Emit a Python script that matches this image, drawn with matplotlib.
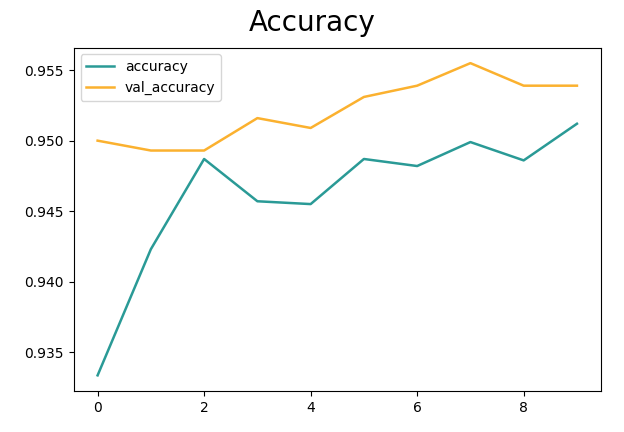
import matplotlib
matplotlib.use("Agg")
import matplotlib.pyplot as plt

epochs = list(range(10))
accuracy = [0.93335, 0.9423, 0.9487, 0.9457, 0.9455, 0.9487, 0.9482, 0.9499, 0.9486, 0.9512]
val_accuracy = [0.9500, 0.9493, 0.9493, 0.9516, 0.9509, 0.9531, 0.9539, 0.9555, 0.9539, 0.9539]

fig = plt.figure(figsize=(6.24, 4.32), dpi=100)
ax = fig.add_axes([0.118, 0.095, 0.845, 0.795])
ax.plot(epochs, accuracy, color="#2a9a96", lw=1.8, label="accuracy")
ax.plot(epochs, val_accuracy, color="#fbb12f", lw=1.8, label="val_accuracy")
fig.suptitle("Accuracy", fontsize=20, y=0.98)
ax.legend(loc="upper left")
fig.savefig("out.png")
